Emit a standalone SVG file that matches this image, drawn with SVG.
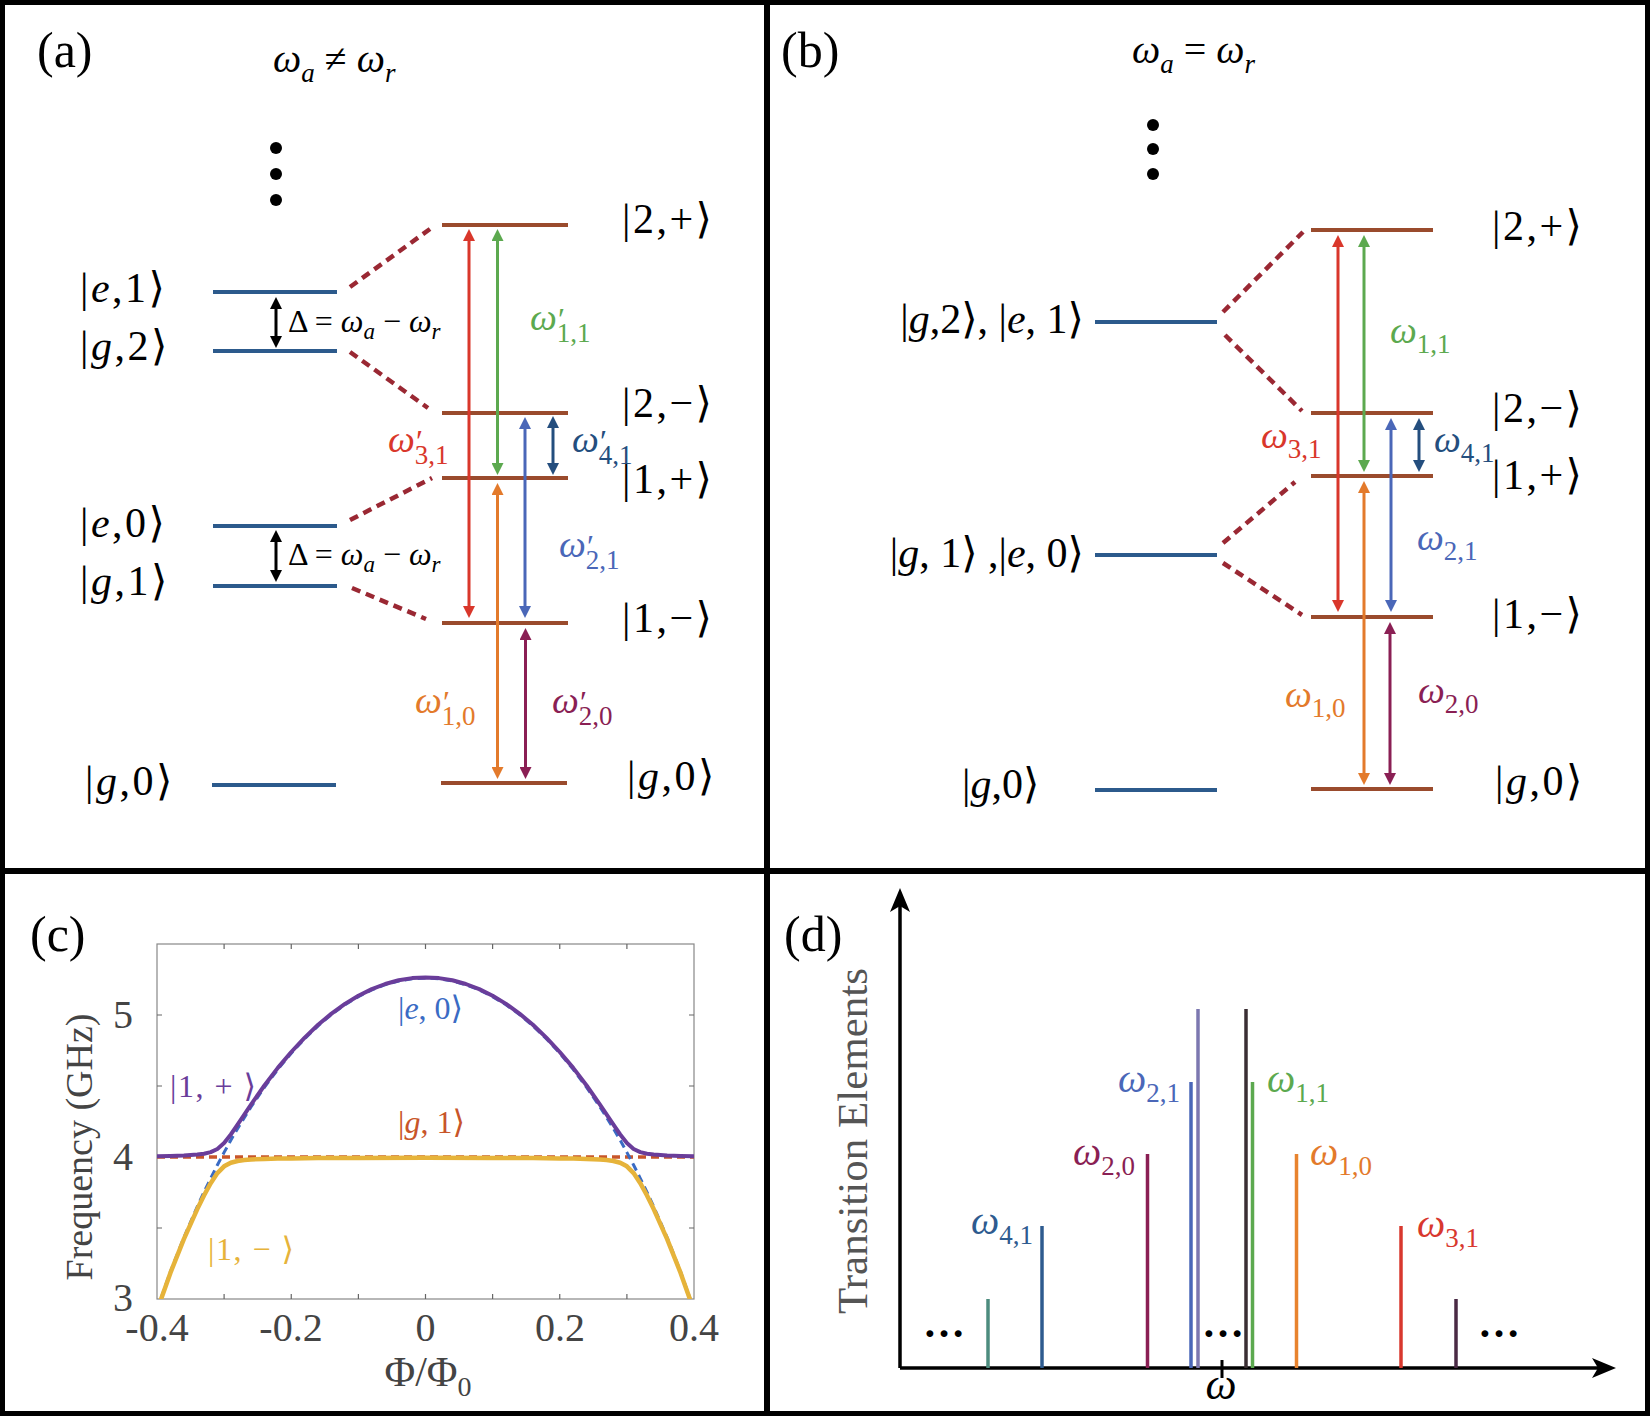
<svg xmlns="http://www.w3.org/2000/svg" width="1650" height="1416" viewBox="0 0 1650 1416">
<style>
.t{font-family:"Liberation Serif","DejaVu Serif",serif;}
.ket{font-size:42px;}
.ls{letter-spacing:2.5px;}
.ketc{font-size:32px;}
.it{font-style:italic;}
.ab{font-family:"DejaVu Sans",sans-serif;font-style:normal;}
.w{font-size:38px;font-style:italic;}
.wd{font-size:40px;font-style:italic;}
.sub{font-size:27px;font-style:normal;}
.subi{font-size:27px;font-style:italic;}
.pr{font-size:32px;font-style:normal;}
.pl{font-size:50px;}
.lvb{stroke:#2C5A8C;stroke-width:4;}
.lvr{stroke:#9A4B2D;stroke-width:4;}
.dash{stroke:#9A2833;stroke-width:4.5;stroke-dasharray:9 6;fill:none;}
.ar{stroke-width:3;fill:none;}
.tick{stroke:#666;stroke-width:1.2;}
.gl{fill:#444;}
.sp{stroke-width:3.5;}
</style>
<defs>
<marker id="mRed" viewBox="0 0 12 12" refX="6" refY="6" markerWidth="12" markerHeight="12" markerUnits="userSpaceOnUse" orient="auto-start-reverse"><path d="M0,0 L12,6 L0,12 z" fill="#D9372B"/></marker>
<marker id="mGrn" viewBox="0 0 12 12" refX="6" refY="6" markerWidth="12" markerHeight="12" markerUnits="userSpaceOnUse" orient="auto-start-reverse"><path d="M0,0 L12,6 L0,12 z" fill="#5CA94F"/></marker>
<marker id="mBlu" viewBox="0 0 12 12" refX="6" refY="6" markerWidth="12" markerHeight="12" markerUnits="userSpaceOnUse" orient="auto-start-reverse"><path d="M0,0 L12,6 L0,12 z" fill="#4A67B8"/></marker>
<marker id="mDbl" viewBox="0 0 12 12" refX="6" refY="6" markerWidth="12" markerHeight="12" markerUnits="userSpaceOnUse" orient="auto-start-reverse"><path d="M0,0 L12,6 L0,12 z" fill="#244E7E"/></marker>
<marker id="mOrg" viewBox="0 0 12 12" refX="6" refY="6" markerWidth="12" markerHeight="12" markerUnits="userSpaceOnUse" orient="auto-start-reverse"><path d="M0,0 L12,6 L0,12 z" fill="#E37A2B"/></marker>
<marker id="mPur" viewBox="0 0 12 12" refX="6" refY="6" markerWidth="12" markerHeight="12" markerUnits="userSpaceOnUse" orient="auto-start-reverse"><path d="M0,0 L12,6 L0,12 z" fill="#8A1F54"/></marker>
<marker id="mBlk" viewBox="0 0 12 12" refX="6" refY="6" markerWidth="12" markerHeight="12" markerUnits="userSpaceOnUse" orient="auto-start-reverse"><path d="M0,0 L12,6 L0,12 z" fill="#000"/></marker>
<marker id="mAx" viewBox="0 0 24 20" refX="8" refY="10" markerWidth="24" markerHeight="20" markerUnits="userSpaceOnUse" orient="auto"><path d="M0,0 L24,10 L0,20 L6,10 z" fill="#000"/></marker>
<clipPath id="plotClip"><rect x="157" y="944" width="537" height="355"/></clipPath>
</defs>
<rect x="0" y="0" width="1650" height="1416" fill="#fff"/>

<g id="frame" fill="none" stroke="#000">
<rect x="2.5" y="2.5" width="1645" height="1411" stroke-width="5"/>
<line x1="767" y1="0" x2="767" y2="1416" stroke-width="6"/>
<line x1="0" y1="871" x2="1650" y2="871" stroke-width="6"/>
</g>

<!-- ============ Panel (a) ============ -->
<g id="panel-a">
<text class="t pl" x="37" y="67">(a)</text>
<text class="t" style="font-size:40px" x="273" y="72"><tspan class="it">ω</tspan><tspan class="subi" dy="10">a</tspan><tspan dy="-10"> ≠ </tspan><tspan class="it">ω</tspan><tspan class="subi" dy="10">r</tspan></text>
<g id="a-dots"><circle cx="276" cy="148" r="6"/><circle cx="276" cy="174" r="6"/><circle cx="276" cy="200" r="6"/></g>

<g id="a-e1"><line class="lvb" x1="213" y1="292" x2="337" y2="292"/><text class="t ket ls" x="80" y="302">|<tspan class="it">e</tspan>,1<tspan class="ab">⟩</tspan></text></g>
<g id="a-g2"><line class="lvb" x1="213" y1="351" x2="337" y2="351"/><text class="t ket ls" x="80" y="360">|<tspan class="it">g</tspan>,2<tspan class="ab">⟩</tspan></text></g>
<g id="a-e0"><line class="lvb" x1="213" y1="526" x2="337" y2="526"/><text class="t ket ls" x="80" y="537">|<tspan class="it">e</tspan>,0<tspan class="ab">⟩</tspan></text></g>
<g id="a-g1"><line class="lvb" x1="213" y1="586" x2="337" y2="586"/><text class="t ket ls" x="80" y="595">|<tspan class="it">g</tspan>,1<tspan class="ab">⟩</tspan></text></g>
<g id="a-g0L"><line class="lvb" x1="212" y1="785" x2="336" y2="785"/><text class="t ket ls" x="85" y="795">|<tspan class="it">g</tspan>,0<tspan class="ab">⟩</tspan></text></g>

<g id="a-2p"><line class="lvr" x1="442" y1="225" x2="568" y2="225"/><text class="t ket ls" x="622" y="233">|2,+<tspan class="ab">⟩</tspan></text></g>
<g id="a-2m"><line class="lvr" x1="442" y1="413" x2="568" y2="413"/><text class="t ket ls" x="622" y="417">|2,−<tspan class="ab">⟩</tspan></text></g>
<g id="a-1p"><line class="lvr" x1="442" y1="478" x2="568" y2="478"/><text class="t ket ls" x="622" y="493">|1,+<tspan class="ab">⟩</tspan></text></g>
<g id="a-1m"><line class="lvr" x1="442" y1="623" x2="568" y2="623"/><text class="t ket ls" x="622" y="632">|1,−<tspan class="ab">⟩</tspan></text></g>
<g id="a-g0R"><line class="lvr" x1="441" y1="783" x2="567" y2="783"/><text class="t ket ls" x="627" y="790">|<tspan class="it">g</tspan>,0<tspan class="ab">⟩</tspan></text></g>

<g id="a-delta1"><text class="t" style="font-size:32px" x="288" y="332">Δ = <tspan class="it">ω</tspan><tspan class="it" style="font-size:23px" dy="7">a</tspan><tspan dy="-7"> − </tspan><tspan class="it">ω</tspan><tspan class="it" style="font-size:23px" dy="7">r</tspan></text></g>
<g id="a-delta2"><text class="t" style="font-size:32px" x="288" y="565">Δ = <tspan class="it">ω</tspan><tspan class="it" style="font-size:23px" dy="7">a</tspan><tspan dy="-7"> − </tspan><tspan class="it">ω</tspan><tspan class="it" style="font-size:23px" dy="7">r</tspan></text></g>

<g id="a-w11" fill="#5CA94F"><text class="t w" x="530" y="330">ω<tspan class="sub" dy="12">1,1</tspan><tspan class="pr" x="558" dy="-12">′</tspan></text></g>
<g id="a-w31" fill="#D9372B"><text class="t w" x="388" y="452">ω<tspan class="sub" dy="12">3,1</tspan><tspan class="pr" x="416" dy="-12">′</tspan></text></g>
<g id="a-w41" fill="#244E7E"><text class="t w" x="572" y="452">ω<tspan class="sub" dy="12">4,1</tspan><tspan class="pr" x="600" dy="-12">′</tspan></text></g>
<g id="a-w21" fill="#4A67B8"><text class="t w" x="559" y="557">ω<tspan class="sub" dy="12">2,1</tspan><tspan class="pr" x="587" dy="-12">′</tspan></text></g>
<g id="a-w10" fill="#E37A2B"><text class="t w" x="415" y="713">ω<tspan class="sub" dy="12">1,0</tspan><tspan class="pr" x="443" dy="-12">′</tspan></text></g>
<g id="a-w20" fill="#8A1F54"><text class="t w" x="552" y="713">ω<tspan class="sub" dy="12">2,0</tspan><tspan class="pr" x="580" dy="-12">′</tspan></text></g>
</g>

<!-- ============ Panel (b) ============ -->
<g id="panel-b">
<text class="t pl" x="781" y="67">(b)</text>
<text class="t" style="font-size:40px" x="1132" y="63"><tspan class="it">ω</tspan><tspan class="subi" dy="10">a</tspan><tspan dy="-10"> = </tspan><tspan class="it">ω</tspan><tspan class="subi" dy="10">r</tspan></text>
<g id="b-dots"><circle cx="1153" cy="125" r="6"/><circle cx="1153" cy="149" r="6"/><circle cx="1153" cy="174" r="6"/></g>

<g id="b-n2"><line class="lvb" x1="1095" y1="322" x2="1217" y2="322"/><text class="t ket" x="1084" y="333" text-anchor="end">|<tspan class="it">g</tspan>,2<tspan class="ab">⟩</tspan>, |<tspan class="it">e</tspan>, 1<tspan class="ab">⟩</tspan></text></g>
<g id="b-n1"><line class="lvb" x1="1095" y1="555" x2="1217" y2="555"/><text class="t ket" x="1084" y="567" text-anchor="end">|<tspan class="it">g</tspan>, 1<tspan class="ab">⟩</tspan> ,|<tspan class="it">e</tspan>, 0<tspan class="ab">⟩</tspan></text></g>
<g id="b-g0L"><line class="lvb" x1="1095" y1="790" x2="1217" y2="790"/><text class="t ket" x="962" y="798">|<tspan class="it">g</tspan>,0<tspan class="ab">⟩</tspan></text></g>

<g id="b-2p"><line class="lvr" x1="1311" y1="230" x2="1433" y2="230"/><text class="t ket ls" x="1492" y="240">|2,+<tspan class="ab">⟩</tspan></text></g>
<g id="b-2m"><line class="lvr" x1="1311" y1="413" x2="1433" y2="413"/><text class="t ket ls" x="1492" y="422">|2,−<tspan class="ab">⟩</tspan></text></g>
<g id="b-1p"><line class="lvr" x1="1311" y1="476" x2="1433" y2="476"/><text class="t ket ls" x="1492" y="489">|1,+<tspan class="ab">⟩</tspan></text></g>
<g id="b-1m"><line class="lvr" x1="1311" y1="617" x2="1433" y2="617"/><text class="t ket ls" x="1492" y="628">|1,−<tspan class="ab">⟩</tspan></text></g>
<g id="b-g0R"><line class="lvr" x1="1311" y1="789" x2="1433" y2="789"/><text class="t ket ls" x="1495" y="795">|<tspan class="it">g</tspan>,0<tspan class="ab">⟩</tspan></text></g>

<g id="b-w11" fill="#5CA94F"><text class="t w" x="1390" y="343">ω<tspan class="sub" dy="10">1,1</tspan></text></g>
<g id="b-w31" fill="#D9372B"><text class="t w" x="1261" y="448">ω<tspan class="sub" dy="10">3,1</tspan></text></g>
<g id="b-w41" fill="#244E7E"><text class="t w" x="1434" y="452">ω<tspan class="sub" dy="10">4,1</tspan></text></g>
<g id="b-w21" fill="#4A67B8"><text class="t w" x="1417" y="550">ω<tspan class="sub" dy="10">2,1</tspan></text></g>
<g id="b-w10" fill="#E37A2B"><text class="t w" x="1285" y="707">ω<tspan class="sub" dy="10">1,0</tspan></text></g>
<g id="b-w20" fill="#8A1F54"><text class="t w" x="1418" y="703">ω<tspan class="sub" dy="10">2,0</tspan></text></g>
</g>

<!-- ============ Connectors (a),(b) ============ -->
<g id="connectors">
<line class="dash" x1="350" y1="287" x2="430" y2="229"/>
<line class="dash" x1="350" y1="352" x2="428" y2="408"/>
<line class="dash" x1="350" y1="520" x2="432" y2="478"/>
<line class="dash" x1="352" y1="588" x2="426" y2="619"/>
<line class="dash" x1="1223" y1="312" x2="1303" y2="232"/>
<line class="dash" x1="1225" y1="335" x2="1302" y2="411"/>
<line class="dash" x1="1223" y1="543" x2="1295" y2="482"/>
<line class="dash" x1="1223" y1="563" x2="1302" y2="615"/>

<line class="ar" stroke="#000" stroke-width="2.5" x1="276" y1="303" x2="276" y2="342" marker-start="url(#mBlk)" marker-end="url(#mBlk)"/>
<line class="ar" stroke="#000" stroke-width="2.5" x1="276" y1="536" x2="276" y2="576" marker-start="url(#mBlk)" marker-end="url(#mBlk)"/>

<line class="ar" stroke="#D9372B" x1="469" y1="235" x2="469" y2="612" marker-start="url(#mRed)" marker-end="url(#mRed)"/>
<line class="ar" stroke="#5CA94F" x1="497.5" y1="235" x2="497.5" y2="469" marker-start="url(#mGrn)" marker-end="url(#mGrn)"/>
<line class="ar" stroke="#4A67B8" x1="525" y1="423" x2="525" y2="612" marker-start="url(#mBlu)" marker-end="url(#mBlu)"/>
<line class="ar" stroke="#244E7E" x1="553" y1="422" x2="553" y2="469" marker-start="url(#mDbl)" marker-end="url(#mDbl)"/>
<line class="ar" stroke="#E37A2B" x1="497.5" y1="489" x2="497.5" y2="773" marker-start="url(#mOrg)" marker-end="url(#mOrg)"/>
<line class="ar" stroke="#8A1F54" x1="525.5" y1="634" x2="525.5" y2="773" marker-start="url(#mPur)" marker-end="url(#mPur)"/>

<line class="ar" stroke="#D9372B" x1="1338" y1="241" x2="1338" y2="606" marker-start="url(#mRed)" marker-end="url(#mRed)"/>
<line class="ar" stroke="#5CA94F" x1="1364" y1="241" x2="1364" y2="466" marker-start="url(#mGrn)" marker-end="url(#mGrn)"/>
<line class="ar" stroke="#4A67B8" x1="1391" y1="424" x2="1391" y2="606" marker-start="url(#mBlu)" marker-end="url(#mBlu)"/>
<line class="ar" stroke="#244E7E" x1="1419" y1="424" x2="1419" y2="466" marker-start="url(#mDbl)" marker-end="url(#mDbl)"/>
<line class="ar" stroke="#E37A2B" x1="1364" y1="487" x2="1364" y2="779" marker-start="url(#mOrg)" marker-end="url(#mOrg)"/>
<line class="ar" stroke="#8A1F54" x1="1390" y1="628" x2="1390" y2="779" marker-start="url(#mPur)" marker-end="url(#mPur)"/>
</g>

<!-- ============ Panel (c) ============ -->
<g id="panel-c">
<text class="t pl" x="30" y="951">(c)</text>
<rect x="157" y="944" width="537" height="355" fill="none" stroke="#888" stroke-width="1.2"/>
<g id="c-ticks" class="tick">
<path d="M224.1,1299v-5M291.25,1299v-5M358.4,1299v-5M425.5,1299v-5M492.6,1299v-5M559.75,1299v-5M626.9,1299v-5M224.1,944v5M291.25,944v5M358.4,944v5M425.5,944v5M492.6,944v5M559.75,944v5M626.9,944v5M157,1015h5M157,1086h5M157,1157h5M157,1228h5M694,1015h-5M694,1086h-5M694,1157h-5M694,1228h-5"/>
</g>
<g id="c-ticklabels" class="t gl" style="font-size:40px" text-anchor="middle">
<text x="157" y="1341">-0.4</text><text x="291" y="1341">-0.2</text><text x="425.5" y="1341">0</text><text x="560" y="1341">0.2</text><text x="694" y="1341">0.4</text>
<text x="123" y="1028">5</text><text x="123" y="1170">4</text><text x="123" y="1311">3</text>
</g>
<text class="t gl" style="font-size:38px" text-anchor="middle" transform="translate(92,1147) rotate(-90)">Frequency (GHz)</text>
<text class="t gl" style="font-size:42px" text-anchor="middle" x="428" y="1386">Φ/Φ<tspan style="font-size:28px" dy="10">0</tspan></text>

<g id="c-curves" clip-path="url(#plotClip)" fill="none">
<polyline stroke="#C8552A" stroke-width="3.5" stroke-dasharray="8 5" points="157,1157 694,1157"/>
<polyline id="c-qubit" stroke="#3A6BC4" stroke-width="3" stroke-dasharray="8 5" points="157,1309.8 170.4,1271.8 183.85,1237.6 197.3,1206.6 204,1192.1 210.7,1178.3 217.4,1165 224.1,1152.4 230.8,1140.2 237.55,1128.7 244.3,1117.6 251,1107 264.4,1087.3 277.8,1069.4 291.25,1053.2 304.7,1038.7 318.1,1025.8 331.5,1014.5 344.95,1004.8 358.4,996.6 371.8,989.9 385.2,984.7 398.65,981 412.1,978.8 425.5,978.1 438.9,978.8 452.35,981 465.8,984.7 479.2,989.9 492.6,996.6 506.05,1004.8 519.5,1014.5 532.9,1025.8 546.3,1038.7 559.75,1053.2 573.2,1069.4 586.6,1087.3 600,1107 606.7,1117.6 613.45,1128.7 620.2,1140.2 626.9,1152.4 633.6,1165 640.3,1178.3 647,1192.1 653.7,1206.6 667.15,1237.6 680.6,1271.8 694,1309.8"/>
<polyline id="c-upper" stroke="#6A3D9A" stroke-width="4" stroke-linejoin="round" points="157,1156.2 170.4,1155.9 183.85,1155.4 197.3,1154.5 204,1153.7 210.7,1152.1 217.4,1149 224.1,1143.1 230.8,1134.5 237.55,1124.7 244.3,1114.6 251,1104.6 264.4,1085.5 277.8,1067.9 291.25,1052 304.7,1037.6 318.1,1024.8 331.5,1013.6 344.95,1003.9 358.4,995.8 371.8,989.1 385.2,984 398.65,980.3 412.1,978.1 425.5,977.4 438.9,978.1 452.35,980.3 465.8,984 479.2,989.1 492.6,995.8 506.05,1003.9 519.5,1013.6 532.9,1024.8 546.3,1037.6 559.75,1052 573.2,1067.9 586.6,1085.5 600,1104.6 606.7,1114.6 613.45,1124.7 620.2,1134.5 626.9,1143.1 633.6,1149 640.3,1152.1 647,1153.7 653.7,1154.5 667.15,1155.4 680.6,1155.9 694,1156.2"/>
<polyline id="c-lower" stroke="#E6B33A" stroke-width="4.5" stroke-linejoin="round" points="157,1310.6 170.4,1272.9 183.85,1239.2 197.3,1209.1 204,1195.5 210.7,1183.2 217.4,1173.1 224.1,1166.3 230.8,1162.7 237.55,1161 244.3,1160 251,1159.5 264.4,1158.9 277.8,1158.6 291.25,1158.4 318.1,1158.1 358.4,1157.9 425.5,1157.7 492.6,1157.9 532.9,1158.1 559.75,1158.4 573.2,1158.6 586.6,1158.9 600,1159.5 606.7,1160 613.45,1161 620.2,1162.7 626.9,1166.3 633.6,1173.1 640.3,1183.2 647,1195.5 653.7,1209.1 667.15,1239.2 680.6,1272.9 694,1310.6"/>
</g>
<g id="c-labels" class="t ketc">
<text x="398" y="1019" fill="#3A6BC4">|<tspan class="it">e</tspan>, 0<tspan class="ab">⟩</tspan></text>
<text x="170" y="1097" fill="#6A3D9A" style="letter-spacing:1.5px">|1, + <tspan class="ab">⟩</tspan></text>
<text x="398" y="1133" fill="#C8552A">|<tspan class="it">g</tspan>, 1<tspan class="ab">⟩</tspan></text>
<text x="208" y="1260" fill="#E6B33A" style="letter-spacing:1.5px">|1, − <tspan class="ab">⟩</tspan></text>
</g>
</g>

<!-- ============ Panel (d) ============ -->
<g id="panel-d">
<text class="t pl" x="784" y="951">(d)</text>
<g id="d-axes" stroke="#000" stroke-width="3.5">
<line x1="900" y1="1368" x2="900" y2="904" marker-end="url(#mAx)"/>
<line x1="900" y1="1368" x2="1600" y2="1368" marker-end="url(#mAx)"/>
<line x1="1222" y1="1360" x2="1222" y2="1378" stroke-width="3"/>
</g>
<text class="t" style="font-size:44px;font-style:italic" x="1221" y="1399" text-anchor="middle">ω</text>
<text class="t" style="font-size:43px;fill:#555" text-anchor="middle" transform="translate(867,1141) rotate(-90)">Transition Elements</text>
<g id="d-spikes" class="sp">
<line x1="988" y1="1299" x2="988" y2="1368" stroke="#4D8C7E"/>
<line x1="1042" y1="1226" x2="1042" y2="1368" stroke="#2E5B8F"/>
<line x1="1147.5" y1="1154" x2="1147.5" y2="1368" stroke="#8A1F54"/>
<line x1="1191" y1="1082" x2="1191" y2="1368" stroke="#4A67B8"/>
<line x1="1198" y1="1009" x2="1198" y2="1368" stroke="#7C78B0"/>
<line x1="1246" y1="1009" x2="1246" y2="1368" stroke="#3A2E33"/>
<line x1="1252.5" y1="1082" x2="1252.5" y2="1368" stroke="#5CA94F"/>
<line x1="1296.5" y1="1154" x2="1296.5" y2="1368" stroke="#E8832E"/>
<line x1="1401" y1="1226" x2="1401" y2="1368" stroke="#D8382E"/>
<line x1="1456" y1="1299" x2="1456" y2="1368" stroke="#4A2A45"/>
</g>
<g id="d-ellipses" class="t" style="font-size:42px;font-weight:bold" text-anchor="middle">
<text x="944" y="1337">…</text><text x="1223" y="1337">…</text><text x="1499" y="1337">…</text>
</g>
<g id="d-w21" fill="#4A67B8"><text class="t wd" x="1118" y="1092">ω<tspan class="sub" dy="10">2,1</tspan></text></g>
<g id="d-w11" fill="#5CA94F"><text class="t wd" x="1267" y="1092">ω<tspan class="sub" dy="10">1,1</tspan></text></g>
<g id="d-w20" fill="#8A1F54"><text class="t wd" x="1073" y="1165">ω<tspan class="sub" dy="10">2,0</tspan></text></g>
<g id="d-w10" fill="#E37A2B"><text class="t wd" x="1310" y="1165">ω<tspan class="sub" dy="10">1,0</tspan></text></g>
<g id="d-w41" fill="#2E5B8F"><text class="t wd" x="971" y="1234">ω<tspan class="sub" dy="10">4,1</tspan></text></g>
<g id="d-w31" fill="#D8382E"><text class="t wd" x="1417" y="1237">ω<tspan class="sub" dy="10">3,1</tspan></text></g>
</g>
</svg>
